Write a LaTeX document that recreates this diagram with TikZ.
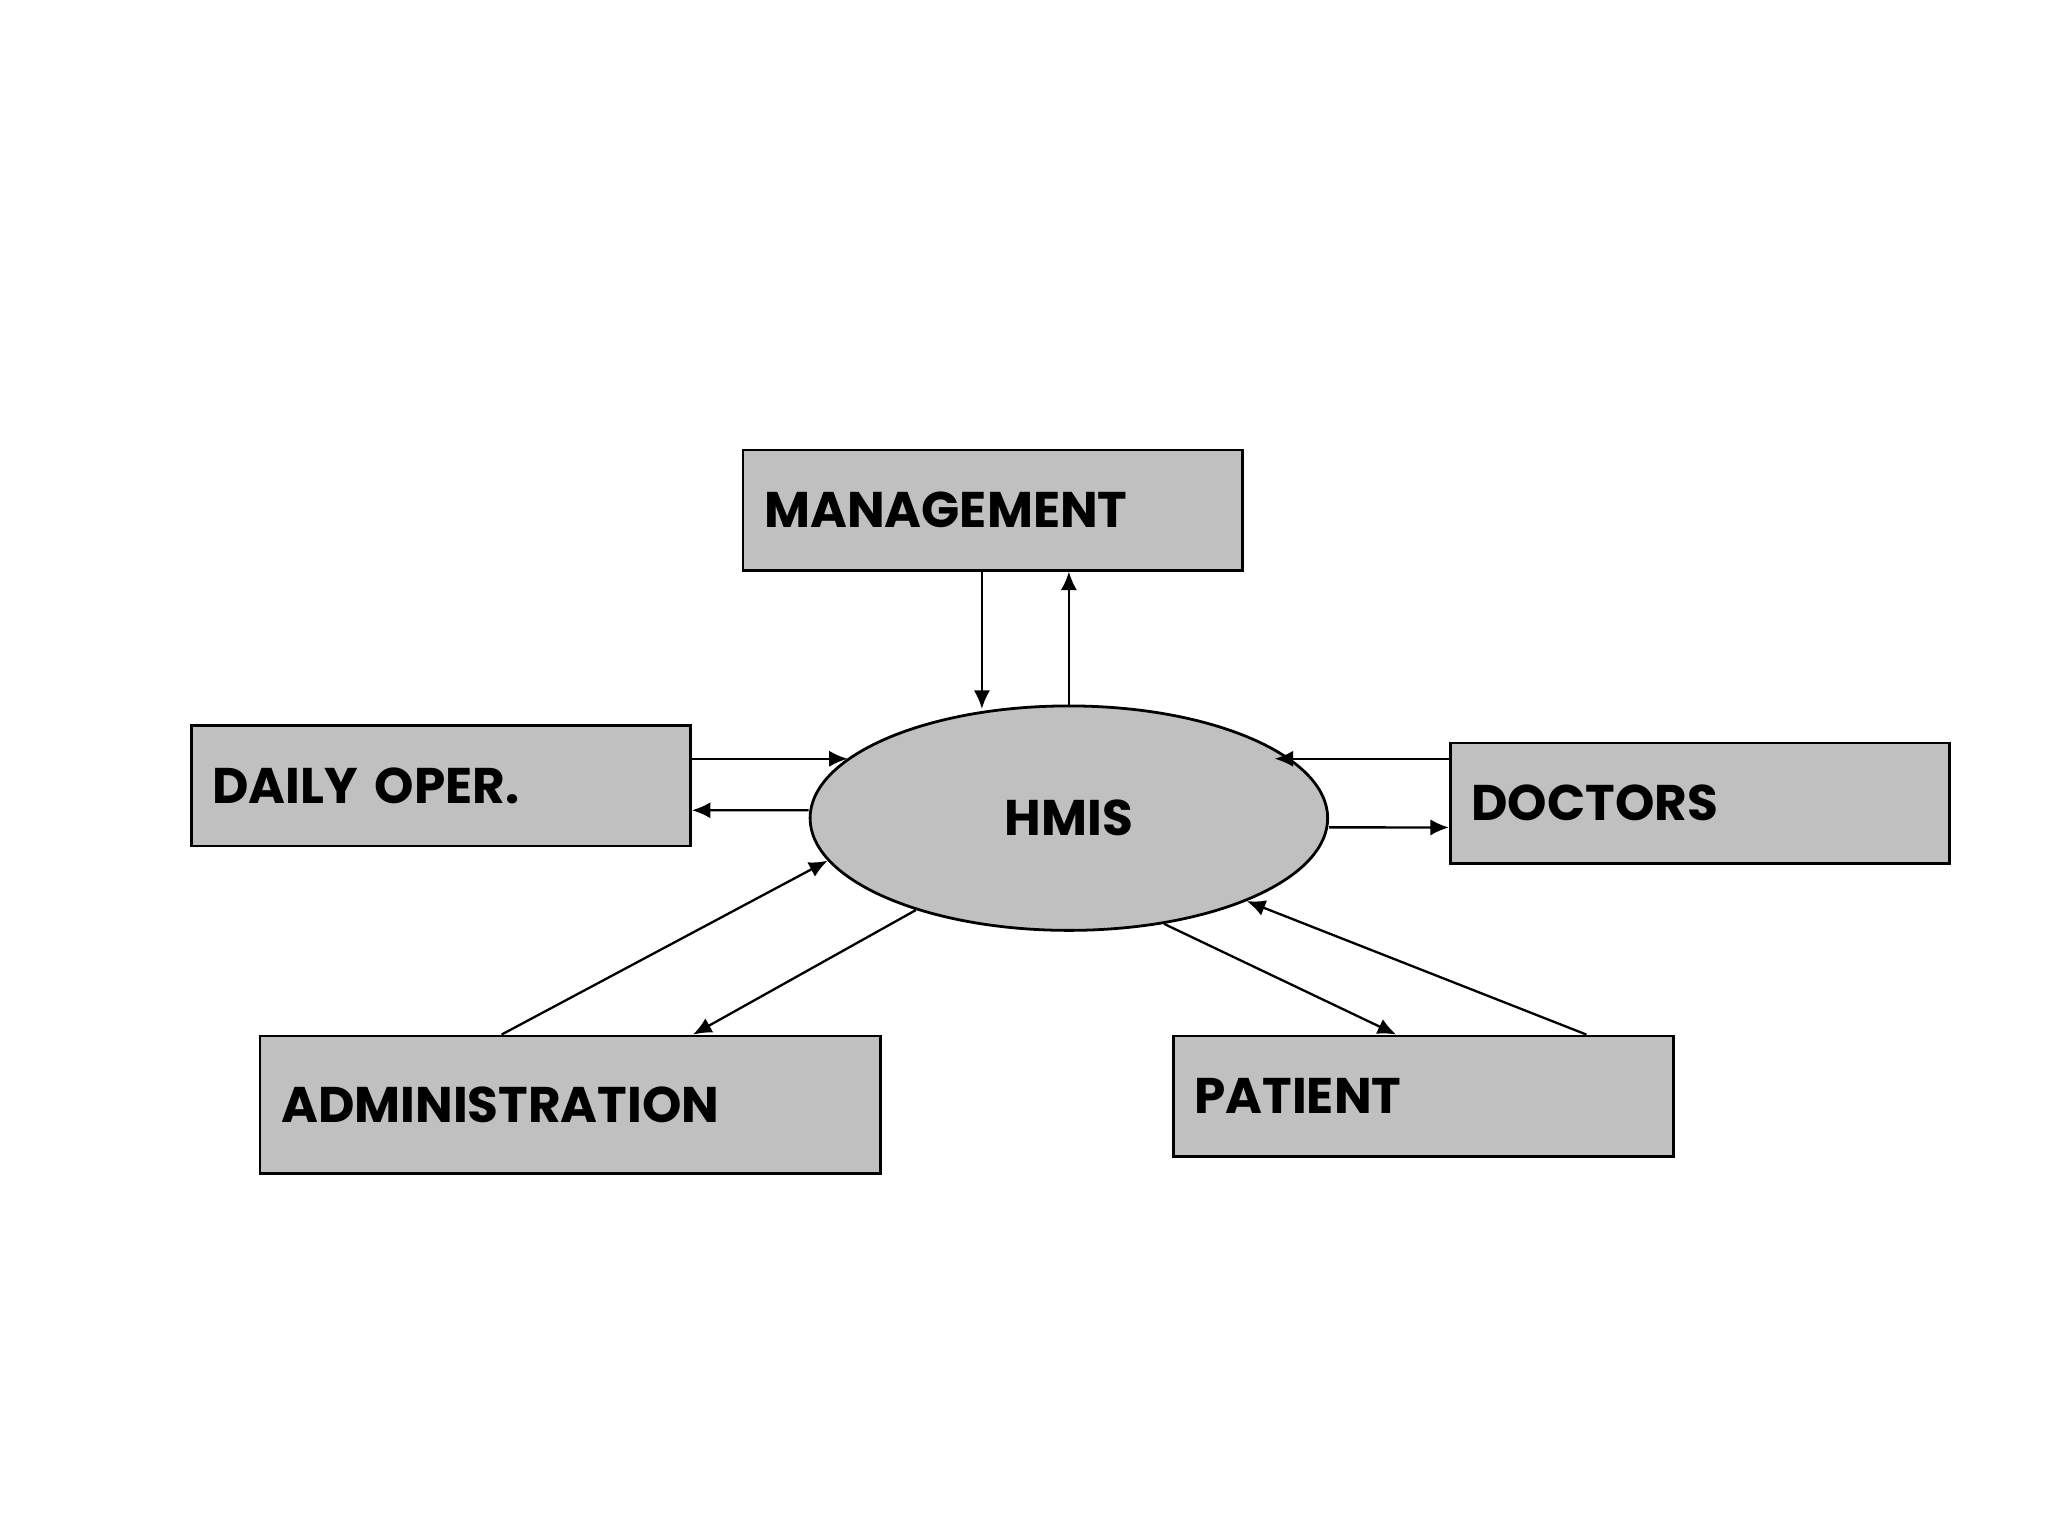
\documentclass[tikz,border=0pt]{standalone}
\usepackage{fontspec}
\setmainfont{Poppins}
\usetikzlibrary{shapes.geometric,arrows.meta}
\begin{document}
\begin{tikzpicture}[x=0.01cm,y=-0.01cm,
  box/.style={draw,fill=boxgray,line width=0.6pt,anchor=north west,align=left,inner sep=0pt,font=\bfseries\fontsize{10.8}{13}\selectfont},
  conn/.style={line width=0.5pt,-{Latex[length=4pt,width=3.5pt]}}]
\definecolor{boxgray}{HTML}{C0C0C0}
\useasboundingbox (0,0) rectangle (1552,1164);
\node[box,minimum width=3.78cm,minimum height=0.91cm,text width=3.46cm] (m) at (562,340) {MANAGEMENT};
\node[box,minimum width=3.78cm,minimum height=0.91cm,text width=3.46cm] (d) at (144,549) {DAILY OPER.};
\node[box,minimum width=3.78cm,minimum height=0.91cm,text width=3.46cm] (doc) at (1098,562) {DOCTORS};
\node[box,minimum width=4.70cm,minimum height=1.04cm,text width=4.38cm] (a) at (196,784) {ADMINISTRATION};
\node[box,minimum width=3.79cm,minimum height=0.91cm,text width=3.47cm] (p) at (888,784) {PATIENT};
\node[ellipse,draw,fill=boxgray,line width=0.6pt,minimum width=3.92cm,minimum height=1.70cm,inner sep=0pt,font=\bfseries\fontsize{10.8}{13}\selectfont] (h) at (810,620) {HMIS};
\draw[conn] ([xshift=1.82cm]m.south west) -- ++(0cm,-1.04cm) coordinate (t1);
\draw[conn] (h.north) -- (h.north |- m.south);
\draw[conn] ([yshift=-0.26cm]d.north east) -- ++(1.18cm,0cm) coordinate (t2);
\draw[conn] (h.west |- 0,614) -- ([yshift=-0.65cm]d.north east);
\draw[conn] ([yshift=-0.13cm]doc.north west) -- ++(-1.32cm,0cm) coordinate (t3);
\draw[conn] (h.east |- 0,627) -- ([yshift=-0.65cm]doc.north west);
\draw[conn] ([xshift=1.84cm]a.north west) -- (h.190.5);
\draw[conn] (h.211.4) -- ([xshift=3.29cm]a.north west);
\draw[conn] (h.312.2) -- ([xshift=1.70cm]p.north west);
\draw[conn] ([xshift=3.14cm]p.north west) -- (h.335.2);
\end{tikzpicture}
\end{document}
